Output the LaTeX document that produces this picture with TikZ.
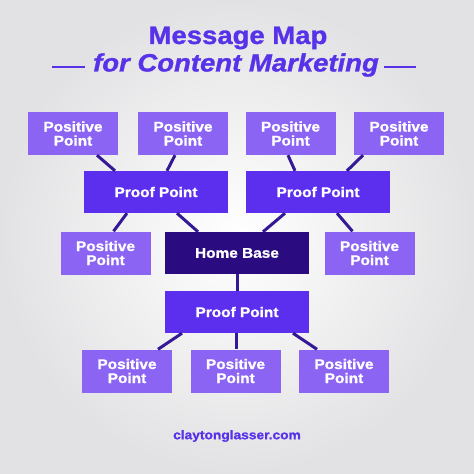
\documentclass[tikz,border=0pt]{standalone}
\usepackage{fontspec}
\setmainfont{Liberation Sans}
\newfontfamily\boxfont[FakeStretch=1.1,FakeBold=1.2]{Liberation Sans Bold}
\newfontfamily\titlefont[FakeStretch=1.1,FakeBold=1.2,ItalicFont={Liberation Sans Bold Italic},ItalicFeatures={FakeStretch=1.1,FakeBold=1.2}]{Liberation Sans Bold}
\definecolor{posc}{RGB}{139,100,244}
\definecolor{proofc}{RGB}{92,46,238}
\definecolor{homec}{RGB}{42,12,128}
\definecolor{linec}{RGB}{52,24,150}
\definecolor{titlec}{RGB}{88,50,232}
\definecolor{bgout}{RGB}{226,226,228}
\tikzset{
  posbox/.style={fill=posc, minimum width=90pt, minimum height=43pt, inner sep=0pt,
    text=white, align=center, font=\boxfont\fontsize{14}{14}\selectfont},
  proofbox/.style={fill=proofc, minimum width=144pt, minimum height=42pt, inner sep=0pt,
    text=white, font=\boxfont\fontsize{14}{14}\selectfont},
  homebox/.style={proofbox, fill=homec},
  conn/.style={draw=linec, line width=3pt},
  titletext/.style={text=titlec, inner sep=0pt},
  dashline/.style={draw=titlec, line width=1.3pt}
}
\begin{document}
\begin{tikzpicture}[x=1pt,y=-1pt]
\useasboundingbox (0,0) rectangle (474,474);
\fill[inner color=white, outer color=bgout] (0,0) rectangle (474,474);
% title
\node[titletext, font=\titlefont\fontsize{25}{25}\selectfont] (t1) at (238,38) {Message Map};
\node[titletext, font=\titlefont\itshape\fontsize{25}{25}\selectfont] (t2) at (236,65) {for Content Marketing};
\coordinate (dl1) at (52,67); \coordinate (dl2) at (85,67);
\coordinate (dr1) at (384,67); \coordinate (dr2) at (416,67);
\draw[dashline] (dl1) -- (dl2);
\draw[dashline] (dr1) -- (dr2);
% nodes
\node[posbox] (p1) at (73,133.5) {Positive\\Point};
\node[posbox] (p2) at (183,133.5) {Positive\\Point};
\node[posbox] (p3) at (290.5,133.5) {Positive\\Point};
\node[posbox] (p4) at (399,133.5) {Positive\\Point};
\node[proofbox] (prl) at (156,192) {Proof Point};
\node[proofbox] (prr) at (318,192) {Proof Point};
\node[posbox] (pl) at (105.5,253) {Positive\\Point};
\node[homebox] (hb) at (237,253) {Home Base};
\node[posbox] (pr) at (369.5,253) {Positive\\Point};
\node[proofbox] (pb) at (237,312) {Proof Point};
\node[posbox] (b1) at (127,371) {Positive\\Point};
\node[posbox] (b2) at (235.5,371) {Positive\\Point};
\node[posbox] (b3) at (344,371) {Positive\\Point};
% connectors
\draw[conn] ([xshift=24pt]p1.south) -- ([xshift=-41pt]prl.north);
\draw[conn] ([xshift=-8pt]p2.south) -- ([xshift=11pt]prl.north);
\draw[conn] ([xshift=-2.5pt]p3.south) -- ([xshift=-23pt]prr.north);
\draw[conn] ([xshift=-36pt]p4.south) -- ([xshift=29pt]prr.north);
\draw[conn] ([xshift=-29pt]prl.south) -- ([xshift=8pt]pl.north);
\draw[conn] ([xshift=21pt]prl.south) -- ([xshift=-39pt]hb.north);
\draw[conn] ([xshift=-33pt]prr.south) -- ([xshift=26pt]hb.north);
\draw[conn] ([xshift=19pt]prr.south) -- ([xshift=-17pt]pr.north);
\draw[conn] (hb.south) -- (pb.north);
\draw[conn] ([xshift=-55pt]pb.south) -- ([xshift=31pt]b1.north);
\draw[conn] ([xshift=-1pt]pb.south) -- ([xshift=0.5pt]b2.north);
\draw[conn] ([xshift=56pt]pb.south) -- ([xshift=-27pt]b3.north);
% footer
\node[titletext, font=\titlefont\fontsize{12.5}{12.5}\selectfont] (ft) at (237,436) {claytonglasser.com};
\end{tikzpicture}
\end{document}
